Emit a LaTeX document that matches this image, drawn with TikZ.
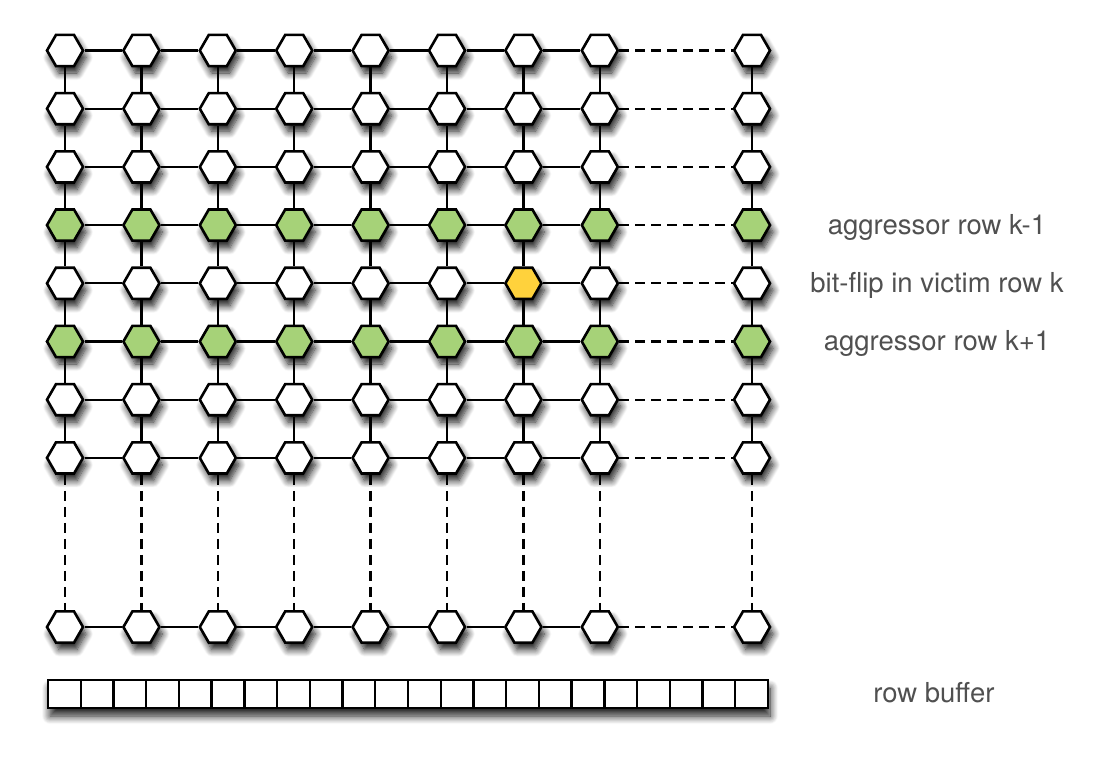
\documentclass[tikz,border=0pt]{standalone}
\usepackage{fontspec}
\setmainfont{TeX Gyre Heros}
\usetikzlibrary{shapes.geometric,shadows.blur}
\definecolor{aggr}{RGB}{166,210,120}
\definecolor{flip}{RGB}{255,210,60}
\definecolor{labelgray}{RGB}{80,80,80}
\begin{document}
\begin{tikzpicture}[x=1pt,y=-1pt,
  hexw/.style={regular polygon, regular polygon sides=6,
    minimum size=36pt, inner sep=0pt, draw=black, line width=2.6pt, fill=white,
    blur shadow={shadow xshift=3pt, shadow yshift=-7pt, shadow blur radius=7pt,
      shadow blur steps=10, shadow opacity=90}},
  hexg/.style={hexw, fill=aggr},
  hexy/.style={hexw, fill=flip},
  wire/.style={line width=2.3pt},
  gapline/.style={wire, dash pattern=on 10pt off 6pt},
  bufbox/.style={rectangle, draw=black, line width=2.6pt, fill=white, inner sep=0pt,
    minimum width=720pt, minimum height=28pt,
    blur shadow={shadow xshift=2pt, shadow yshift=-8pt, shadow blur radius=8pt,
      shadow blur steps=10, shadow opacity=90}},
  cellbox/.style={rectangle, draw=black, line width=2.3pt, inner sep=0pt,
    minimum width=32.727pt, minimum height=28pt},
  lbl/.style={text=labelgray, font=\fontsize{27.5}{33}\selectfont, anchor=base, inner sep=0pt}
]
\useasboundingbox (0,0) rectangle (1104,765);

% hexagon cells
\foreach \r in {0,...,8} {
  \foreach \c in {0,...,8} {
    \pgfmathsetmacro\xx{\c<8 ? 65+76.4*\c : 752}
    \pgfmathsetmacro\yy{\r<8 ? 50.5+58.2*\r : 627}
    \def\st{hexw}
    \ifnum\r=3 \def\st{hexg}\fi
    \ifnum\r=5 \def\st{hexg}\fi
    \ifnum\r=4 \ifnum\c=6 \def\st{hexy}\fi\fi
    \node[\st] (h-\r-\c) at (\xx,\yy) {};
  }
}

% horizontal connectors
\foreach \r in {0,...,8} {
  \foreach \c [evaluate=\c as \n using int(\c+1)] in {0,...,6} {
    \draw[wire] (h-\r-\c) -- (h-\r-\n);
  }
  \draw[gapline] (h-\r-7) -- (h-\r-8);
}

% vertical connectors
\foreach \c in {0,...,8} {
  \foreach \r [evaluate=\r as \n using int(\r+1)] in {0,...,6} {
    \draw[wire] (h-\r-\c) -- (h-\n-\c);
  }
  \draw[gapline] (h-7-\c) -- (h-8-\c);
}

% row buffer
\node[bufbox] (buf) at (408,694) {};
\foreach \i in {0,...,21} {
  \node[cellbox] (cell-\i) at ({48+32.727*(\i+0.5)},694) {};
}

% labels
\node[lbl] (l1) at (937,234) {aggressor row k-1};
\node[lbl] (l2) at (937,292.5) {bit-flip in victim row k};
\node[lbl] (l3) at (937,350.5) {aggressor row k+1};
\node[lbl] (l4) at (934,702) {row buffer};
\end{tikzpicture}
\end{document}
